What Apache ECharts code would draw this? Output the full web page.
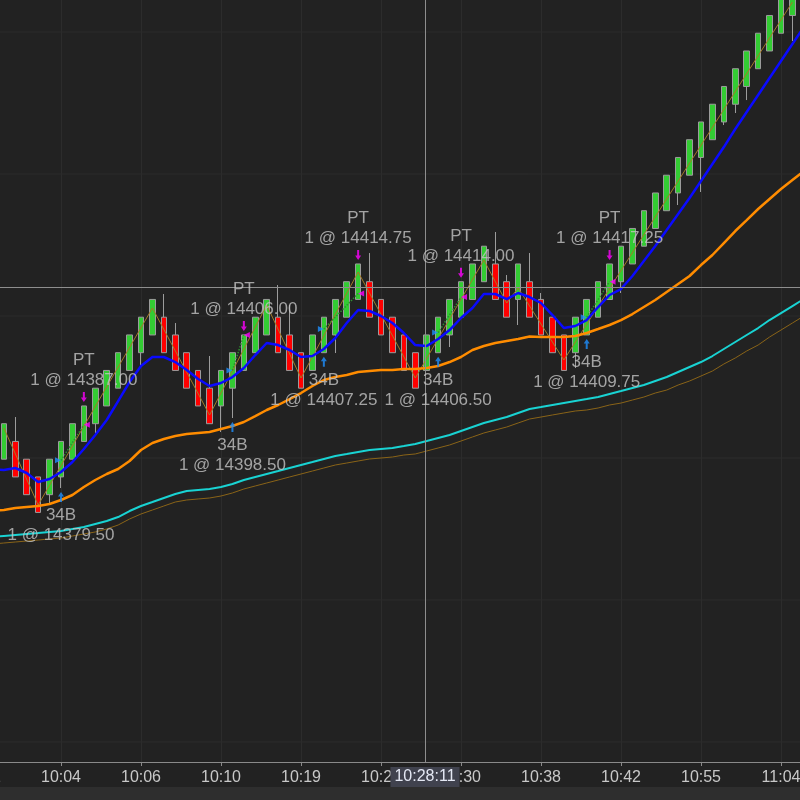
<!DOCTYPE html>
<html><head><meta charset="utf-8">
<script src="https://cdn.jsdelivr.net/npm/echarts@6/dist/echarts.min.js"></script>
<style>html,body{margin:0;padding:0;background:#222222;overflow:hidden}#c{width:800px;height:800px}</style>
</head><body><div id="c"></div>
<script>
// ---------- data ----------
const barIndex = [-7,-6,-5,-4,-3,-2,-1,0,1,2,3,4,5,6,7,8,9,10,11,12,13,14,15,16,17,18,19,20,21,22,23,24,25,26,27,28,29,30,31,32,33,34,35,36,37,38,39,40,41,42,43,44,45,46,47,48,49,50,51,52,53,54,55,56,57,58,59,60,61,62,63,64];
const opens = [14372.25,14376.00,14379.75,14383.50,14379.75,14376.00,14372.25,14376.00,14379.75,14383.50,14387.25,14391.00,14394.75,14398.50,14402.25,14406.00,14409.75,14406.00,14402.25,14398.50,14394.75,14391.00,14394.75,14398.50,14402.25,14406.00,14409.75,14406.00,14402.25,14398.50,14402.25,14406.00,14409.75,14413.50,14417.25,14413.50,14409.75,14406.00,14402.25,14398.50,14402.25,14406.00,14409.75,14413.50,14417.25,14421.00,14417.25,14413.50,14417.25,14413.50,14409.75,14406.00,14402.25,14406.00,14409.75,14413.50,14417.25,14421.00,14424.75,14428.50,14432.25,14436.00,14439.75,14443.50,14447.25,14451.00,14454.75,14458.50,14462.25,14466.00,14469.75,14473.50];
const closes = [14379.75,14383.50,14387.25,14376.00,14372.25,14368.50,14379.75,14383.50,14387.25,14391.00,14394.75,14398.50,14402.25,14406.00,14409.75,14413.50,14402.25,14398.50,14394.75,14391.00,14387.25,14398.50,14402.25,14406.00,14409.75,14413.50,14402.25,14398.50,14394.75,14406.00,14409.75,14413.50,14417.25,14421.00,14409.75,14406.00,14402.25,14398.50,14394.75,14406.00,14409.75,14413.50,14417.25,14421.00,14424.75,14413.50,14409.75,14421.00,14409.75,14406.00,14402.25,14398.50,14409.75,14413.50,14417.25,14421.00,14424.75,14428.50,14432.25,14436.00,14439.75,14443.50,14447.25,14451.00,14454.75,14458.50,14462.25,14466.00,14469.75,14473.50,14477.25,14481.00];
const highs = [14379.75,14383.50,14387.25,14388.66,14379.75,14376.00,14379.75,14383.50,14387.25,14391.00,14394.75,14398.50,14402.25,14406.00,14409.75,14413.50,14414.65,14408.52,14402.25,14398.50,14401.55,14398.50,14402.25,14406.00,14409.75,14413.50,14416.55,14412.32,14402.25,14406.00,14409.75,14413.50,14417.25,14421.00,14423.31,14413.50,14409.75,14406.00,14402.25,14406.00,14409.75,14413.50,14417.25,14421.00,14424.75,14427.75,14418.66,14421.00,14423.31,14414.86,14409.75,14406.00,14409.75,14413.50,14417.25,14421.00,14424.75,14428.50,14432.25,14436.00,14439.75,14443.50,14447.25,14451.00,14454.75,14458.50,14462.25,14466.00,14469.75,14473.50,14477.25,14481.00];
const lows = [14372.25,14376.00,14379.75,14376.00,14372.25,14368.50,14370.30,14373.66,14379.75,14383.50,14385.28,14391.00,14394.75,14398.50,14399.65,14406.00,14402.25,14398.50,14394.75,14391.00,14387.25,14385.49,14388.45,14398.50,14402.25,14406.00,14402.25,14398.50,14394.75,14398.50,14402.25,14402.18,14409.75,14413.50,14409.75,14406.00,14402.25,14398.50,14394.75,14398.50,14402.25,14403.45,14409.75,14413.50,14417.25,14413.50,14409.75,14408.10,14409.75,14406.00,14402.25,14398.50,14399.01,14406.00,14409.75,14413.50,14414.86,14421.00,14424.75,14428.50,14432.25,14433.45,14439.75,14436.20,14447.25,14450.35,14452.89,14455.63,14462.25,14466.00,14469.75,14468.10];

const maBars = [-7,-6,-5,-4,-3,-2,-1,0,1,2,3,4,5,6,7,8,9,10,11,12,13,14,15,16,17,18,19,20,21,22,23,24,25,26,27,28,29,30,31,32,33,34,35,36,37,38,39,40,41,42,43,44,45,46,47,48,49,50,51,52,53,54,55,56,57,58,59,60,61,62,63,64,65];
const blueMA = [14377.89,14377.68,14377.46,14377.89,14376.83,14374.93,14375.56,14377.04,14379.15,14381.90,14384.86,14388.03,14392.04,14396.06,14399.44,14401.34,14401.34,14400.28,14398.59,14396.69,14395.21,14395.85,14397.11,14399.01,14401.76,14404.30,14403.87,14402.82,14401.34,14401.55,14403.03,14405.35,14408.52,14411.27,14411.06,14410.00,14408.52,14406.41,14403.87,14403.66,14405.14,14407.04,14409.58,14411.69,14414.65,14414.65,14413.59,14414.86,14414.01,14412.75,14410.21,14407.46,14407.89,14409.15,14411.90,14414.44,14415.70,14418.45,14421.62,14424.79,14428.17,14431.55,14434.93,14438.52,14442.11,14445.70,14449.51,14453.10,14456.69,14460.28,14463.87,14467.47,14471.06];
const orangeMA = [14368.80,14368.80,14369.01,14369.44,14369.65,14369.86,14370.28,14371.13,14372.18,14373.87,14375.35,14376.62,14377.68,14379.37,14381.69,14383.17,14384.01,14384.65,14385.07,14385.28,14385.49,14386.13,14386.76,14387.61,14388.87,14390.14,14391.20,14392.46,14393.73,14395.21,14396.48,14397.11,14397.54,14398.17,14398.38,14398.59,14398.59,14398.80,14398.80,14399.01,14399.44,14400.28,14401.34,14402.82,14403.66,14404.30,14404.72,14405.14,14405.66,14405.56,14405.56,14405.56,14405.77,14406.41,14407.25,14408.10,14409.15,14410.42,14411.90,14413.38,14415.07,14416.76,14418.45,14420.77,14422.89,14425.42,14427.96,14430.28,14432.61,14434.72,14436.83,14438.73,14440.63];
const cyanMA = [14363.10,14363.31,14363.52,14363.73,14363.94,14364.15,14364.37,14364.58,14365.00,14365.42,14366.06,14366.69,14367.53,14368.80,14369.86,14370.70,14371.55,14372.39,14373.03,14373.24,14373.45,14373.87,14374.51,14375.35,14375.99,14376.62,14377.25,14377.89,14378.52,14379.15,14379.79,14380.42,14380.84,14381.27,14381.69,14381.90,14382.11,14382.53,14382.96,14383.59,14384.23,14384.86,14385.70,14386.55,14387.39,14388.03,14388.66,14389.51,14390.35,14390.77,14391.20,14391.62,14392.04,14392.46,14392.89,14393.52,14394.15,14394.79,14395.42,14396.27,14397.11,14398.17,14399.23,14400.28,14401.55,14403.03,14404.51,14405.99,14407.46,14409.15,14410.63,14412.11,14413.59];
const brownMA = [14361.62,14361.83,14362.04,14362.25,14362.46,14362.67,14362.89,14363.10,14363.52,14363.94,14364.37,14365.00,14365.84,14367.11,14368.17,14369.01,14369.86,14370.70,14371.13,14371.34,14371.55,14371.97,14372.61,14373.45,14374.09,14374.72,14375.35,14375.99,14376.62,14377.25,14377.89,14378.52,14378.94,14379.37,14379.79,14380.00,14380.21,14380.63,14380.85,14381.48,14382.12,14382.75,14383.59,14384.44,14385.28,14385.92,14386.55,14387.40,14388.24,14388.66,14389.09,14389.51,14389.93,14390.14,14390.57,14391.20,14391.61,14392.25,14392.88,14393.73,14394.36,14395.42,14396.27,14397.32,14398.38,14399.86,14401.13,14402.61,14403.87,14405.56,14407.04,14408.52,14410.00];

const zigzagBars = [-5,-2,8,13,18,21,26,31,37,39,40,44,64];
const zigzagPrices = [14386.34,14370.07,14411.69,14389.08,14412.32,14396.90,14419.30,14396.90,14421.83,14412.75,14415.92,14400.70,14476.34];

const entryBars = [0,15,23,33,46];
const entryPrices = [14379.50,14398.50,14407.25,14406.50,14409.75];
const entryTag = '34B';
const exitBars = [2,16,26,35,48];
const exitPrices = [14387.00,14406.00,14414.75,14414.00,14417.25];
const exitTag = 'PT';

const tickBars = [-7,0,7,14,21,28,35,42,49,56,63];
const tickLabels = ['10:02','10:04','10:06','10:10','10:19','10:24','10:30','10:38','10:42','10:55','11:04'];
const gridPrices = [14320,14350,14380,14410,14440,14470];

const crossBar = 31.85;
const crossPrice = 14416.13;
const crossTime = '10:28:11';

// ---------- chart ----------
const F = "'Liberation Sans', Arial, Helvetica, sans-serif";
const chart = echarts.init(document.getElementById('c'), null, {renderer:'canvas', width:800, height:800});

const candleData = barIndex.map((j,i)=>[j, opens[i], closes[i], lows[i], highs[i]]);
const pairs = (xs, ys) => xs.map((x,i)=>[x, ys[i]]);
const hiOf = j => highs[barIndex.indexOf(j)];
const loOf = j => lows[barIndex.indexOf(j)];

const series = [];
gridPrices.forEach(p => series.push({
  type:'line', data:[[-9,p],[68,p]], symbol:'none', silent:true, z:1,
  lineStyle:{color:'#2c2c2c', width:1}
}));
series.push({
  type:'candlestick', data:candleData, encode:{x:0, y:[1,2,3,4]}, barWidth:6, z:3, silent:true,
  itemStyle:{color:'#33cc33', color0:'#ff0000', borderColor:'#9c9c9c', borderColor0:'#9c9c9c', borderWidth:1}
});
series.push({type:'line', data:pairs(zigzagBars, zigzagPrices), symbol:'none', z:4, silent:true,
  lineStyle:{color:'#a47a24', width:1}});
series.push({type:'line', data:pairs(maBars, brownMA), symbol:'none', z:4, silent:true,
  lineStyle:{color:'#8a6418', width:1}});
series.push({type:'line', data:pairs(maBars, cyanMA), symbol:'none', z:4, silent:true,
  lineStyle:{color:'#19d3d3', width:2}});
series.push({type:'line', data:pairs(maBars, orangeMA), symbol:'none', z:4, silent:true,
  lineStyle:{color:'#ff8c00', width:2.5}});
series.push({type:'line', data:pairs(maBars, blueMA), symbol:'none', z:4, silent:true,
  lineStyle:{color:'#0a0aff', width:2.5}});
// entry markers + trade lines
series.push({type:'scatter', data:pairs(entryBars, entryPrices), symbol:'triangle', symbolSize:[6,6], symbolRotate:-90,
  symbolOffset:[-3,0], z:6, silent:true, itemStyle:{color:'#1e90ff'},
  markLine:{silent:true, symbol:['none','none'], label:{show:false},
    lineStyle:{color:'#2f8f2f', width:1.5, type:'dotted'},
    data: entryBars.map((j,i)=>[{coord:[j, entryPrices[i]]},{coord:[exitBars[i], exitPrices[i]]}])}
});
series.push({type:'scatter', data:pairs(exitBars, exitPrices), symbol:'triangle', symbolSize:[6,6], symbolRotate:90,
  symbolOffset:[3,0], z:6, silent:true, itemStyle:{color:'#ff00ff'}});
// arrows
series.push({type:'scatter', data:exitBars.map(j=>[j, hiOf(j)]), symbol:'path://M2,0 L4,0 L4,5 L6,5 L3,9 L0,5 L2,5 Z',
  symbolSize:[6,10], symbolOffset:[0,-9], z:6, silent:true, itemStyle:{color:'#ff00ff'}});
series.push({type:'scatter', data:entryBars.map(j=>[j, loOf(j)]), symbol:'path://M3,0 L6,4 L4,4 L4,9 L2,9 L2,4 L0,4 Z',
  symbolSize:[6,10], symbolOffset:[0,9], z:6, silent:true, itemStyle:{color:'#1e90ff'}});
// labels
const lblStyle = {show:true, color:'#c4c4c4', fontSize:17, lineHeight:20, fontFamily:F, align:'center'};
series.push({type:'scatter', symbolSize:1, z:7, silent:true, itemStyle:{color:'rgba(0,0,0,0)'},
  data: exitBars.map((j,i)=>({value:[j, hiOf(j)], label:{formatter: exitTag + '\n1 @ ' + exitPrices[i].toFixed(2)}})),
  label:Object.assign({position:'top', distance:15}, lblStyle)});
series.push({type:'scatter', symbolSize:1, z:7, silent:true, itemStyle:{color:'rgba(0,0,0,0)'},
  data: entryBars.map((j,i)=>({value:[j, loOf(j)], label:{formatter: entryTag + '\n1 @ ' + entryPrices[i].toFixed(2)}})),
  label:Object.assign({position:'bottom', distance:17}, lblStyle),
  markLine:{silent:true, symbol:['none','none'], lineStyle:{color:'#8e8e8e', width:1, type:'solid'},
    data:[
      {xAxis:crossBar, label:{show:true, position:'start', distance:5, formatter:crossTime, color:'#e4e8f4',
        backgroundColor:'#40424e', padding:[2,4], fontSize:16, lineHeight:16, fontFamily:F}},
      {yAxis:crossPrice, label:{show:false}}
    ]}
});

chart.setOption({
  animation:false,
  backgroundColor:'#222222',
  grid:{left:-19, right:-21, top:0, bottom:38, outerBoundsMode:'none', containLabel:false},
  xAxis:{type:'value', min:-7, max:66.5, interval:7,
    axisLine:{show:true, onZero:false, lineStyle:{color:'#8a8a8a', width:1}},
    axisTick:{show:true, length:4, lineStyle:{color:'#8a8a8a'}},
    axisLabel:{color:'#c8c8c8', fontSize:16, fontFamily:F, margin:8,
      formatter: v => { const k = tickBars.indexOf(v); return k >= 0 ? tickLabels[k] : ''; }},
    splitLine:{show:true, lineStyle:{color:'#2c2c2c', width:1}}},
  yAxis:{type:'value', min:14315.77, max:14476.77, show:false, scale:true},
  graphic:[{type:'rect', left:0, top:787, shape:{width:800, height:13}, style:{fill:'#2e2e2e'}, silent:true}],
  series: series
});
</script></body></html>
